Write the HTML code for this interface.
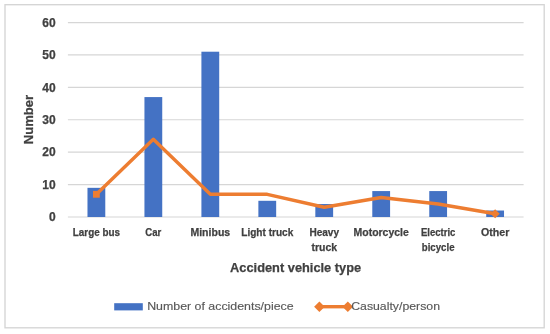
<!DOCTYPE html>
<html lang="en">
<head>
<meta charset="utf-8">
<title>Accident vehicle type chart</title>
<style>
html,body{margin:0;padding:0;background:#fff;}
body{width:550px;height:334px;overflow:hidden;}
svg{display:block;}
text{font-family:"Liberation Sans",sans-serif;}
.b{font-weight:bold;fill:#404040;stroke:#404040;stroke-width:0.25;}
.r{fill:#595959;stroke:#595959;stroke-width:0.15;}
</style>
</head>
<body>
<svg width="550" height="334" viewBox="0 0 550 334">
<rect x="0" y="0" width="550" height="334" fill="#ffffff"/>
<rect x="5" y="4.7" width="539.2" height="323.1" fill="#ffffff" stroke="#d5d5d5" stroke-width="1.35"/>

<g stroke="#d6d6d6" stroke-width="1.2">
<line x1="67.9" y1="217.00" x2="523.6" y2="217.00"/>
<line x1="67.9" y1="184.59" x2="523.6" y2="184.59"/>
<line x1="67.9" y1="152.18" x2="523.6" y2="152.18"/>
<line x1="67.9" y1="119.77" x2="523.6" y2="119.77"/>
<line x1="67.9" y1="87.36" x2="523.6" y2="87.36"/>
<line x1="67.9" y1="54.95" x2="523.6" y2="54.95"/>
<line x1="67.9" y1="22.54" x2="523.6" y2="22.54"/>
</g>
<g fill="#4472c4">
<rect x="87.48" y="187.83" width="17.8" height="29.17"/>
<rect x="144.44" y="97.08" width="17.8" height="119.92"/>
<rect x="201.41" y="51.71" width="17.8" height="165.29"/>
<rect x="258.37" y="200.80" width="17.8" height="16.20"/>
<rect x="315.33" y="204.04" width="17.8" height="12.96"/>
<rect x="372.29" y="191.07" width="17.8" height="25.93"/>
<rect x="429.26" y="191.07" width="17.8" height="25.93"/>
<rect x="486.22" y="210.52" width="17.8" height="6.48"/>
</g>
<polyline points="96.38,194.31 153.34,139.22 210.31,194.31 267.27,194.31 324.23,207.28 381.19,197.55 438.16,204.04 495.12,213.76" fill="none" stroke="#ed7d31" stroke-width="3.4" stroke-linejoin="round" stroke-linecap="round"/>
<rect x="92.98" y="190.91" width="6.8" height="6.8" fill="#ed7d31"/>
<polygon points="490.52,213.76 495.12,209.16 499.72,213.76 495.12,218.36" fill="#ed7d31"/>
<g class="b" font-size="12" text-anchor="end">
<text x="55.6" y="221.30">0</text>
<text x="55.6" y="188.89">10</text>
<text x="55.6" y="156.48">20</text>
<text x="55.6" y="124.07">30</text>
<text x="55.6" y="91.66">40</text>
<text x="55.6" y="59.25">50</text>
<text x="55.6" y="26.84">60</text>
</g>
<text class="b" font-size="13.4" text-anchor="middle" textLength="49.4" lengthAdjust="spacingAndGlyphs" transform="translate(33.2 119.5) rotate(-90)">Number</text>
<g class="b" font-size="10.8" text-anchor="middle">
<text x="96.38" y="236.0" textLength="47.2" lengthAdjust="spacingAndGlyphs">Large bus</text>
<text x="153.34" y="236.0" textLength="16" lengthAdjust="spacingAndGlyphs">Car</text>
<text x="210.31" y="236.0" textLength="39.7" lengthAdjust="spacingAndGlyphs">Minibus</text>
<text x="267.27" y="236.0" textLength="52" lengthAdjust="spacingAndGlyphs">Light truck</text>
<text x="324.23" y="236.0" textLength="29.7" lengthAdjust="spacingAndGlyphs">Heavy</text>
<text x="324.23" y="250.6" textLength="25.6" lengthAdjust="spacingAndGlyphs">truck</text>
<text x="381.19" y="236.0" textLength="55.3" lengthAdjust="spacingAndGlyphs">Motorcycle</text>
<text x="438.16" y="236.0" textLength="34.5" lengthAdjust="spacingAndGlyphs">Electric</text>
<text x="438.16" y="250.6" textLength="32.7" lengthAdjust="spacingAndGlyphs">bicycle</text>
<text x="495.12" y="236.0" textLength="28.3" lengthAdjust="spacingAndGlyphs">Other</text>
</g>
<text class="b" font-size="13.4" text-anchor="middle" x="295.6" y="272.4" textLength="131" lengthAdjust="spacingAndGlyphs">Accident vehicle type</text>
<rect x="114.2" y="303.2" width="28.6" height="7.2" fill="#4472c4"/>
<text class="r" font-size="11.4" x="147.2" y="310.0" textLength="146.4" lengthAdjust="spacingAndGlyphs">Number of accidents/piece</text>
<line x1="319.4" y1="306.7" x2="347.8" y2="306.7" stroke="#ed7d31" stroke-width="3.4"/>
<polygon points="314.10,306.70 319.40,301.40 324.70,306.70 319.40,312.00" fill="#ed7d31"/>
<polygon points="342.50,306.70 347.80,301.40 353.10,306.70 347.80,312.00" fill="#ed7d31"/>
<text class="r" font-size="11.4" x="351.2" y="310.0" textLength="88.8" lengthAdjust="spacingAndGlyphs">Casualty/person</text>
</svg>
</body>
</html>
